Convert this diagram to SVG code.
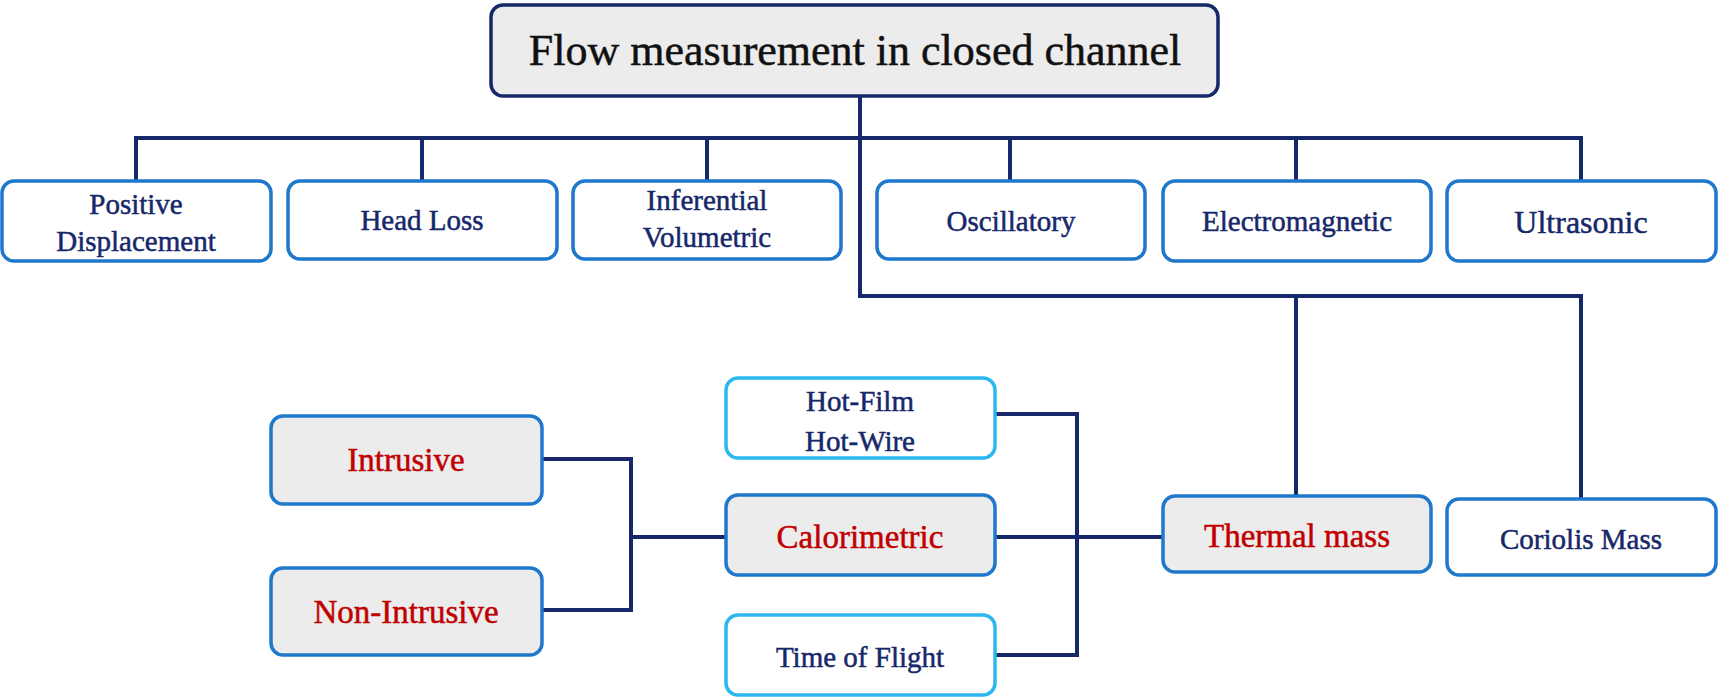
<svg xmlns="http://www.w3.org/2000/svg" width="1718" height="697" viewBox="0 0 1718 697">
<style>
.b{fill:#fff;stroke:#1f78cc;stroke-width:3.5}
.g{fill:#ececec;stroke:#1f78cc;stroke-width:3.5}
.c{fill:#fff;stroke:#2bb8f0;stroke-width:3.5}
.top{fill:#ececec;stroke:#16286a;stroke-width:3.5}
text{font-family:"Liberation Serif",serif;text-anchor:middle;fill:#16286a;font-size:29px;stroke:#16286a;stroke-width:0.5}
.r{fill:#c00000;stroke:#c00000;font-size:33px}
#conn path{fill:none;stroke:#16286a;stroke-width:4}
</style>
<rect width="1718" height="697" fill="#fff"/>
<g id="conn">
<path d="M860 96V296H1581V499M1296 296V496"/>
<path d="M136 181V138H1581V181M422 138V181M707 138V181M1010 138V181M1296 138V181"/>
<path d="M542 459H631V610H542M631 537H726"/>
<path d="M995 414H1077V655H995M995 537H1163"/>
</g>
<g id="root"><rect class="top" x="491" y="5" width="727" height="91" rx="12"/><text x="855" y="65" style="font-size:44px;fill:#111;stroke:#111">Flow measurement in closed channel</text></g>
<g id="pd"><rect class="b" x="2" y="181" width="269" height="80" rx="12"/><text x="136" y="214">Positive</text><text x="136" y="251">Displacement</text></g>
<g id="hl"><rect class="b" x="288" y="181" width="269" height="78" rx="12"/><text x="422" y="230">Head Loss</text></g>
<g id="iv"><rect class="b" x="573" y="181" width="268" height="78" rx="12"/><text x="707" y="210">Inferential</text><text x="707" y="247">Volumetric</text></g>
<g id="os"><rect class="b" x="877" y="181" width="268" height="78" rx="12"/><text x="1011" y="231">Oscillatory</text></g>
<g id="em"><rect class="b" x="1163" y="181" width="268" height="80" rx="12"/><text x="1297" y="231">Electromagnetic</text></g>
<g id="us"><rect class="b" x="1447" y="181" width="269" height="80" rx="12"/><text x="1581" y="233" style="font-size:32px">Ultrasonic</text></g>
<g id="tm"><rect class="g" x="1163" y="496" width="268" height="76" rx="12"/><text class="r" x="1297" y="547">Thermal mass</text></g>
<g id="cm"><rect class="b" x="1447" y="499" width="269" height="76" rx="12"/><text x="1581" y="549">Coriolis Mass</text></g>
<g id="hf"><rect class="c" x="726" y="378" width="269" height="80" rx="12"/><text x="860" y="411">Hot-Film</text><text x="860" y="451">Hot-Wire</text></g>
<g id="ca"><rect class="g" x="726" y="495" width="269" height="80" rx="12"/><text class="r" x="860" y="548">Calorimetric</text></g>
<g id="tof"><rect class="c" x="726" y="615" width="269" height="80" rx="12"/><text x="860" y="667">Time of Flight</text></g>
<g id="in"><rect class="g" x="271" y="416" width="271" height="88" rx="12"/><text class="r" x="406" y="471">Intrusive</text></g>
<g id="ni"><rect class="g" x="271" y="568" width="271" height="87" rx="12"/><text class="r" x="406" y="623">Non-Intrusive</text></g>
</svg>
